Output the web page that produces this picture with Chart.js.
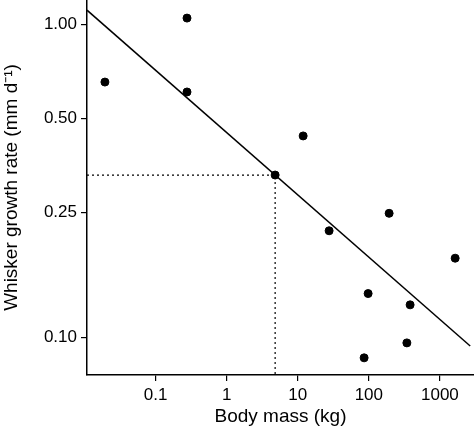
<!DOCTYPE html>
<html><head><style>html,body{margin:0;padding:0;background:#fff}</style>
<script src="https://cdn.jsdelivr.net/npm/chart.js@4"></script></head>
<body><div style="width:474px;height:434px"><canvas id="c" width="474" height="434"></canvas></div>
<script>
const massKg = [0.0193,0.276,0.276,11.9,4.8,27.6,193,1640,97.7,381,343,85.8];
const growth = [0.654,1.047,0.608,0.44,0.33,0.219,0.249,0.179,0.138,0.127,0.096,0.086];
const fitX = [0.0108,2670];
const fitY = [1.11,0.0938];
const refX = 4.8, refY = 0.33;
const xTicks = [0.1,1,10,100,1000];
const yTicks = [0.1,0.25,0.5,1];
const font = {family:'"Liberation Sans", Arial, sans-serif', size:17};
const fixArea = {id:'fixArea', afterLayout(c){
  const a=c.chartArea; a.left=87; a.right=474; a.top=0; a.bottom=375; a.width=387; a.height=375;
  const x=c.scales.x, y=c.scales.y;
  x.left=87; x.right=474; x.width=387; x.top=375; x.bottom=434; x.height=59;
  y.top=0; y.bottom=375; y.height=375; y.left=0; y.right=87; y.width=87;
  x.configure(); y.configure();
}};
new Chart(document.getElementById('c'), {
  type:'scatter',
  plugins:[fixArea],
  data:{datasets:[
    {data:massKg.map((x,i)=>({x,y:growth[i]})),backgroundColor:'#000',borderColor:'#000',pointRadius:4},
    {type:'line',data:fitX.map((x,i)=>({x,y:fitY[i]})),borderColor:'#000',borderWidth:1.5,pointRadius:0,fill:false},
    {type:'line',data:[{x:0.0108,y:refY},{x:refX,y:refY},{x:refX,y:0.0758}],borderColor:'#000',borderWidth:1.2,borderDash:[2,3],pointRadius:0,fill:false}
  ]},
  options:{responsive:false,animation:false,layout:{padding:0},
    plugins:{legend:{display:false},tooltip:{enabled:false}},
    scales:{
      x:{type:'logarithmic',min:0.0108,max:3020,
        afterBuildTicks:s=>{s.ticks=xTicks.map(v=>({value:v}));},
        afterFit:s=>{s.height=59;},
        ticks:{color:'#000',font,padding:4,autoSkip:false,maxRotation:0,callback:v=>String(v)},
        grid:{drawOnChartArea:false,drawTicks:true,tickLength:6,color:'#000',lineWidth:1.2},
        border:{display:true,color:'#000',width:1.5},
        title:{display:true,text:'Body mass (kg)',color:'#000',font:{family:font.family,size:19},padding:{top:0,bottom:6}}},
      y:{type:'logarithmic',min:0.0758,max:1.196,
        afterBuildTicks:s=>{s.ticks=yTicks.map(v=>({value:v}));},
        afterFit:s=>{s.width=87;},
        ticks:{color:'#000',font,padding:4,autoSkip:false,callback:v=>Number(v).toFixed(2)},
        grid:{drawOnChartArea:false,drawTicks:true,tickLength:6,color:'#000',lineWidth:1.2},
        border:{display:true,color:'#000',width:1.5},
        title:{display:true,text:'Whisker growth rate (mm d⁻¹)',color:'#000',font:{family:font.family,size:19},padding:{top:0,bottom:2}}}
    }}
});
</script></body></html>
